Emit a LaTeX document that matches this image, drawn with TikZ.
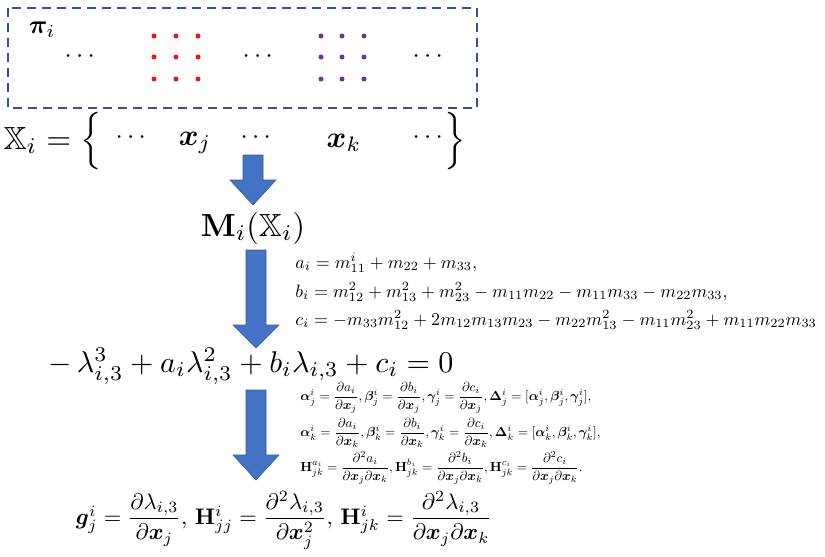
\documentclass[tikz,border=0pt]{standalone}
\usepackage{amsmath,amssymb,bm}
\definecolor{boxblue}{RGB}{47,84,150}
\definecolor{arrblue}{RGB}{68,114,196}
\definecolor{dred}{RGB}{240,20,20}
\definecolor{dpur}{RGB}{112,48,160}
\tikzset{
  blockarrow/.style={draw=arrblue!80!black, fill=arrblue, line width=0.6pt},
  dotr/.style={circle, fill=dred, inner sep=0pt, minimum size=5pt},
  dotp/.style={circle, fill=dpur, inner sep=0pt, minimum size=5pt},
  lbl/.style={inner sep=0pt}
}
\newcommand{\blockarr}[4]{% x center, y top, y shaft end, y tip
  \draw[blockarrow] (#1-10,#2) -- (#1+10,#2) -- (#1+10,#3) -- (#1+23,#3) -- (#1,#4) -- (#1-23,#3) -- (#1-10,#3) -- cycle;}
\begin{document}
\begin{tikzpicture}[x=1pt,y=-1pt]
\useasboundingbox (0,0) rectangle (825,557);
\draw[boxblue, line width=2.5pt, dash pattern=on 9pt off 6pt] (8,8) rectangle (477,108);
\node[lbl,scale=2.6] (pi) at (42,30) {$\bm{\pi}_i$};
\node[lbl,scale=2.6] (d1) at (82,57) {$\cdots$};
\node[lbl,scale=2.6] (d2) at (260,57) {$\cdots$};
\node[lbl,scale=2.6] (d3) at (430,57) {$\cdots$};
\foreach \i/\x in {1/154,2/176,3/198}{\foreach \j/\y in {1/36,2/57,3/79}{\node[dotr] (r\i\j) at (\x,\y) {};}}
\foreach \i/\x in {1/321,2/342,3/364}{\foreach \j/\y in {1/36,2/57,3/79}{\node[dotp] (p\i\j) at (\x,\y) {};}}
\node[lbl,scale=3.2,anchor=west] (X) at (3,141) {$\mathbb{X}_i =\Big\{$};
\node[lbl,scale=2.6] (e1) at (133,138) {$\cdots$};
\node[lbl,scale=3] (xj) at (195,143) {$\bm{x}_j$};
\node[lbl,scale=2.6] (e2) at (258,138) {$\cdots$};
\node[lbl,scale=3] (xk) at (344,143) {$\bm{x}_k$};
\node[lbl,scale=2.6] (e3) at (430,138) {$\cdots$};
\node[lbl,scale=3.2] (rb) at (455,141) {$\Big\}$};
\blockarr{253}{155}{180}{205}
\node[lbl,scale=3.2] (M) at (253,228) {$\mathbf{M}_i(\mathbb{X}_i)$};
\blockarr{256}{250}{325}{348}
\node[lbl,anchor=west,scale=1.8] (eqa) at (295,263) {$a_i=m_{11}^i+m_{22}+m_{33},$};
\node[lbl,anchor=west,scale=1.8] (eqb) at (295,292) {$b_i=m_{12}^2+m_{13}^2+m_{23}^2-m_{11}m_{22}-m_{11}m_{33}-m_{22}m_{33},$};
\node[lbl,anchor=west,scale=1.8] (eqc) at (295,320) {$c_i=-m_{33}m_{12}^2+2m_{12}m_{13}m_{23}-m_{22}m_{13}^2-m_{11}m_{23}^2+m_{11}m_{22}m_{33}$};
\node[lbl,anchor=west,scale=3.0] (char) at (48,366) {$-\,\lambda_{i,3}^3+a_i\lambda_{i,3}^2+b_i\lambda_{i,3}+c_i=0$};
\blockarr{256}{390}{455}{480}
\node[lbl,anchor=west,scale=1.32] (da) at (300,398) {$\bm{\alpha}_j^i=\dfrac{\partial a_i}{\partial \bm{x}_j},\bm{\beta}_j^i=\dfrac{\partial b_i}{\partial \bm{x}_j},\bm{\gamma}_j^i=\dfrac{\partial c_i}{\partial \bm{x}_j},\bm{\Delta}_j^i=[\bm{\alpha}_j^i,\bm{\beta}_j^i,\bm{\gamma}_j^i],$};
\node[lbl,anchor=west,scale=1.32] (db) at (300,433) {$\bm{\alpha}_k^i=\dfrac{\partial a_i}{\partial \bm{x}_k},\bm{\beta}_k^i=\dfrac{\partial b_i}{\partial \bm{x}_k},\bm{\gamma}_k^i=\dfrac{\partial c_i}{\partial \bm{x}_k},\bm{\Delta}_k^i=[\bm{\alpha}_k^i,\bm{\beta}_k^i,\bm{\gamma}_k^i],$};
\node[lbl,anchor=west,scale=1.32] (dc) at (300,468) {$\mathbf{H}_{jk}^{a_i}=\dfrac{\partial^2 a_i}{\partial \bm{x}_j\partial \bm{x}_k},\mathbf{H}_{jk}^{b_i}=\dfrac{\partial^2 b_i}{\partial \bm{x}_j\partial \bm{x}_k},\mathbf{H}_{jk}^{c_i}=\dfrac{\partial^2 c_i}{\partial \bm{x}_j\partial \bm{x}_k}.$};
\node[lbl,scale=2.25] (g) at (284,520) {$\bm{g}_j^i=\dfrac{\partial \lambda_{i,3}}{\partial \bm{x}_j},\,\mathbf{H}_{jj}^i=\dfrac{\partial^2 \lambda_{i,3}}{\partial \bm{x}_j^2},\,\mathbf{H}_{jk}^i=\dfrac{\partial^2 \lambda_{i,3}}{\partial \bm{x}_j\partial \bm{x}_k}$};
\end{tikzpicture}
\end{document}
